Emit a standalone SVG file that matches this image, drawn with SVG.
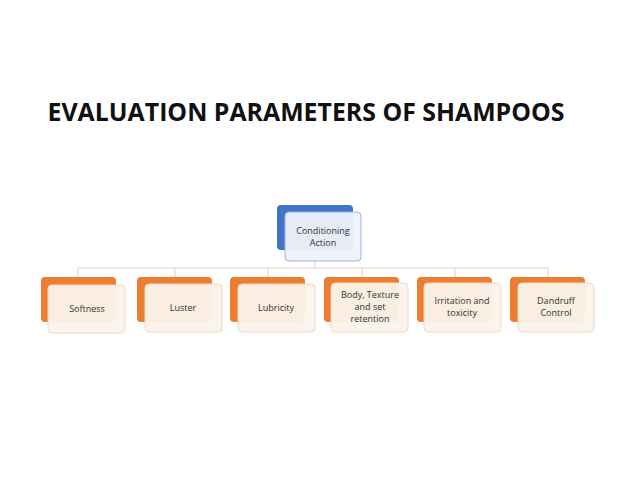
<svg xmlns="http://www.w3.org/2000/svg" width="638" height="478" viewBox="0 0 638 478">
<style>
.o{fill:#ed7d31}.b{fill:#4472c4}
.f{fill:#fbf3ec;fill-opacity:.95;stroke:#f0d9c4;stroke-width:1}
.fb{fill:#eef2fa;fill-opacity:.95;stroke:#9db3df;stroke-width:1}
text{font-family:"Open Sans","Liberation Sans",sans-serif;font-size:9px;fill:#333;text-anchor:middle}
.c{stroke:#e6cdb5;stroke-width:1;fill:none}
</style>
<rect width="638" height="478" fill="#fff"/>
<text x="306" y="121" textLength="517" lengthAdjust="spacingAndGlyphs" style="font-size:25px;font-weight:bold;fill:#111;text-anchor:middle">EVALUATION PARAMETERS OF SHAMPOOS</text>
<g id="connectors">
<path class="c" d="M315 261V268M78 268H548M78 268V277M175 268V277M268 268V277M362 268V277M455 268V277M548 268V277"/>
</g>
<g id="top"><rect class="b" x="277" y="205" width="76" height="45" rx="4"/><rect class="fb" x="285" y="212" width="76" height="49" rx="4"/><text x="323" y="234">Conditioning</text><text x="323" y="246">Action</text></g>
<g id="n1"><rect class="o" x="41" y="277" width="75" height="45" rx="4"/><rect class="f" x="48" y="285" width="77" height="48" rx="4"/><text x="87" y="312">Softness</text></g>
<g id="n2"><rect class="o" x="137" y="277" width="75" height="45" rx="4"/><rect class="f" x="145" y="284" width="77" height="48" rx="4"/><text x="183" y="311">Luster</text></g>
<g id="n3"><rect class="o" x="230" y="277" width="75" height="45" rx="4"/><rect class="f" x="238" y="284" width="77" height="48" rx="4"/><text x="276" y="311">Lubricity</text></g>
<g id="n4"><rect class="o" x="324" y="277" width="75" height="45" rx="4"/><rect class="f" x="331" y="283" width="77" height="49" rx="4"/><text x="370" y="298">Body, Texture</text><text x="370" y="310">and set</text><text x="370" y="322">retention</text></g>
<g id="n5"><rect class="o" x="417" y="277" width="75" height="45" rx="4"/><rect class="f" x="424" y="283" width="77" height="49" rx="4"/><text x="462" y="304">Irritation and</text><text x="462" y="316">toxicity</text></g>
<g id="n6"><rect class="o" x="510" y="277" width="75" height="45" rx="4"/><rect class="f" x="518" y="283" width="76" height="49" rx="4"/><text x="556" y="304">Dandruff</text><text x="556" y="316">Control</text></g>
</svg>
